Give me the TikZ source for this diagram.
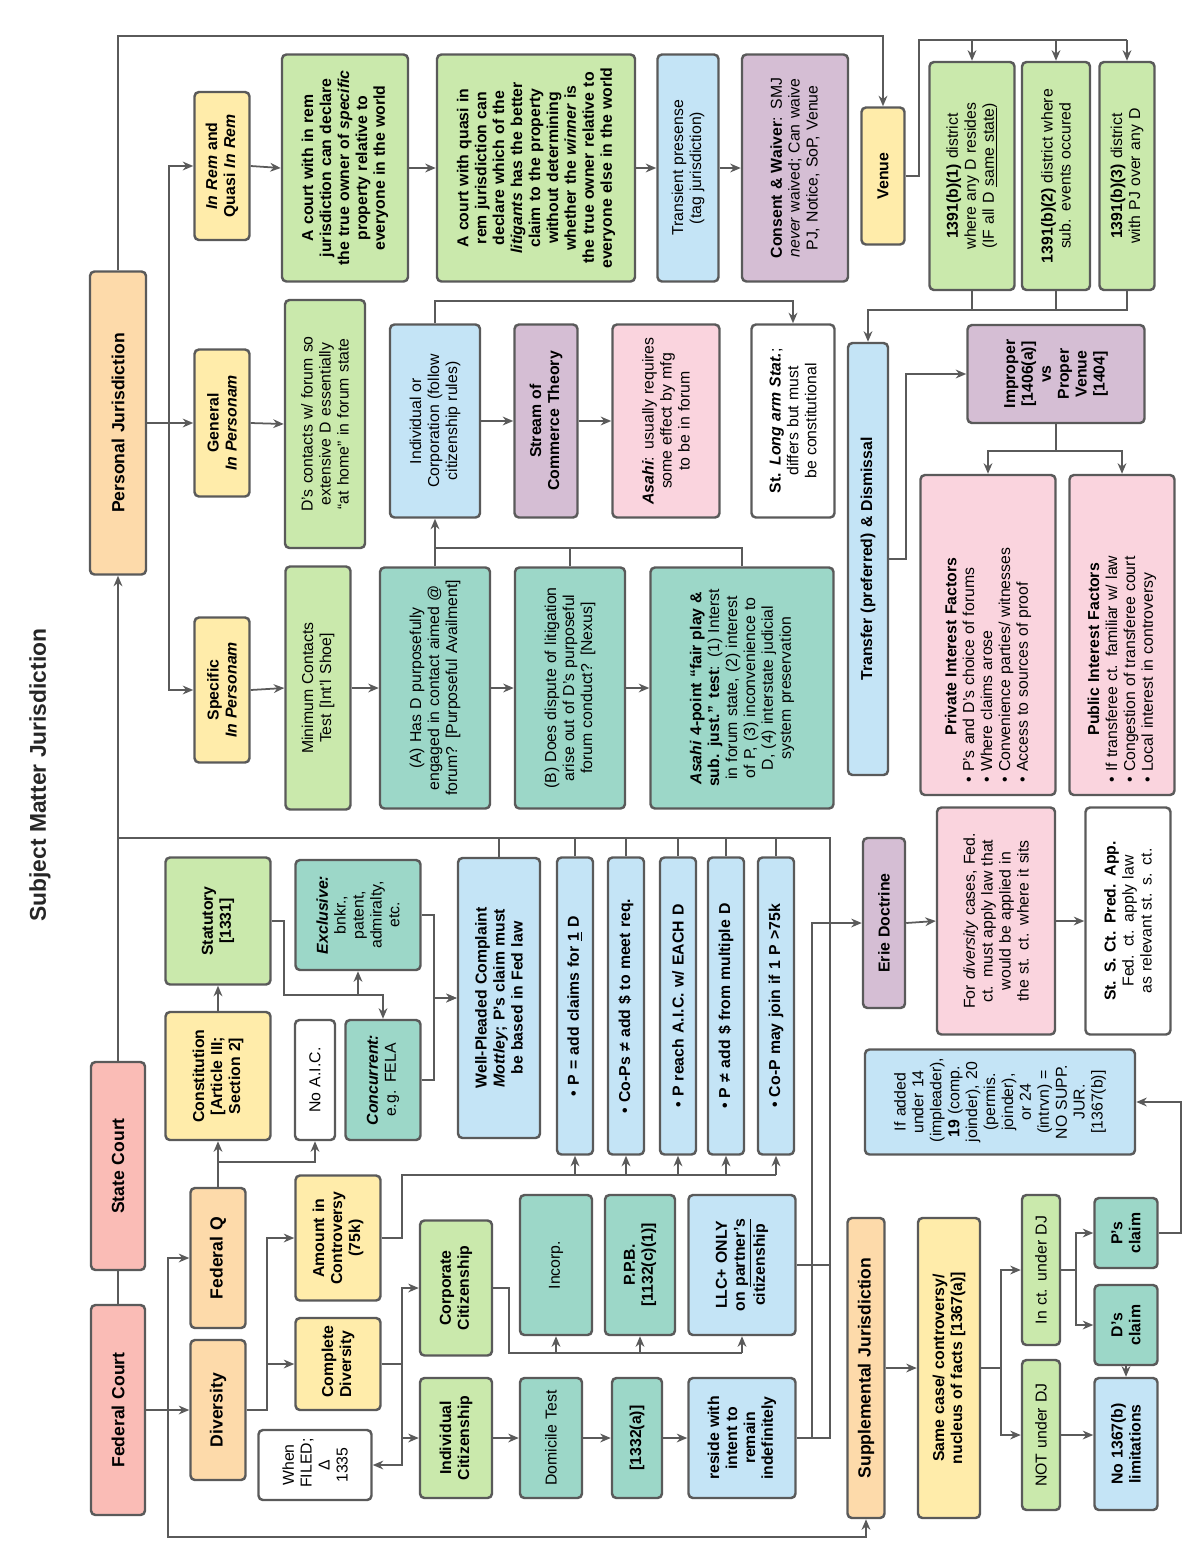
\documentclass[tikz,border=0pt]{standalone}
\usepackage{fontspec}
\setmainfont{Liberation Sans}
\usetikzlibrary{arrows.meta}
\hyphenpenalty=10000
\exhyphenpenalty=10000
\newlength\pxu
\setlength\pxu{0.02cm}
\definecolor{cLine}{RGB}{90,90,90}
\definecolor{cRed}{RGB}{250,188,182}
\definecolor{cOrange}{RGB}{253,218,170}
\definecolor{cYellow}{RGB}{255,236,170}
\definecolor{cGreen}{RGB}{202,233,172}
\definecolor{cTeal}{RGB}{156,215,200}
\definecolor{cBlue}{RGB}{196,228,246}
\definecolor{cPurple}{RGB}{213,190,212}
\definecolor{cPink}{RGB}{250,212,222}
\tikzset{
  bx/.style={draw=cLine, line width=1.4pt, rounded corners=2.5pt, rotate=90,
    align=center, inner sep=1pt, font=\fontsize{9}{10.2}\selectfont\bfseries},
  nb/.style={font=\fontsize{9}{10.2}\selectfont},
  hd/.style={font=\fontsize{10}{11.5}\selectfont\bfseries},
  sz/.style 2 args={minimum height={#1*0.02cm}, minimum width={#2*0.02cm},
    text width=\dimexpr#2\pxu-14pt\relax},
  con/.style={draw=cLine, line width=1pt},
}
\begin{document}
\begin{tikzpicture}[x=0.02cm, y=-0.02cm, >={Stealth[length=6pt,width=5pt]}]
  \useasboundingbox (0,0) rectangle (1200,1553);
  \node[rotate=90, font=\fontsize{13}{15}\selectfont\bfseries, text=black!85] (title) at (40,775) {Subject Matter Jurisdiction};

  % courts
  \node[bx, hd, sz={54}{210}, fill=cRed] (fed) at (118,1410) {Federal Court};
  \node[bx, hd, sz={54}{208}, fill=cRed] (state) at (118,1166) {State Court};
  \node[bx, hd, sz={56}{303}, fill=cOrange] (pj) at (118,423) {Personal Jurisdiction};

  % subject matter
  \node[bx, hd, sz={55}{140}, fill=cOrange] (div) at (218,1410) {Diversity};
  \node[bx, hd, sz={55}{140}, fill=cOrange] (fedq) at (218,1258) {Federal Q};
  \node[bx, nb, sz={113}{70}, fill=white] (filed) at (315,1465) {When FILED;\\ Δ\\ 1335};
  \node[bx, sz={85}{92}, fill=cYellow] (cdiv) at (338,1364) {Complete Diversity};
  \node[bx, sz={85}{125}, fill=cYellow] (aic) at (338,1238) {Amount in Controversy (75k)};
  \node[bx, sz={105}{128}, fill=cYellow] (const) at (218,1076) {Constitution [Article III; Section 2]};
  \node[bx, sz={105}{127}, fill=cGreen] (stat) at (218,921) {Statutory [1331]};
  \node[bx, nb, sz={40}{120}, fill=white] (noaic) at (315,1080) {No A.I.C.};
  \node[bx, nb, sz={125}{110}, fill=cTeal] (excl) at (358,915) {\textbf{\textit{Exclusive:}} bnkr., patent, admiralty, etc.};
  \node[bx, nb, sz={75}{120}, fill=cTeal] (conc) at (383,1080) {\textbf{\textit{Concurrent:}} e.g. FELA};
  \node[bx, sz={82}{280}, fill=cBlue] (wpc) at (499,998) {Well-Pleaded Complaint \textit{Mottley}; P's claim must be based in Fed law};
  \node[bx, sz={36}{297}, fill=cBlue] (b1) at (575,1006) {• P = add claims for \underline{1} D};
  \node[bx, sz={36}{297}, fill=cBlue] (b2) at (626,1006) {• Co-Ps ≠ add \$ to meet req.};
  \node[bx, sz={36}{297}, fill=cBlue] (b3) at (678,1006) {• P reach A.I.C. w/ EACH D};
  \node[bx, sz={36}{297}, fill=cBlue] (b4) at (726,1006) {• P ≠ add \$ from multiple D};
  \node[bx, sz={36}{297}, fill=cBlue] (b5) at (776,1006) {• Co-P may join if 1 P >75k};
  \node[bx, sz={72}{120}, fill=cGreen] (indcit) at (456,1438) {Individual Citizenship};
  \node[bx, sz={72}{135}, fill=cGreen] (corpcit) at (456,1288) {Corporate Citizenship};
  \node[bx, nb, sz={62}{120}, fill=cTeal] (domicile) at (551,1438) {Domicile Test};
  \node[bx, sz={50}{120}, fill=cTeal] (s1332) at (637,1438) {[1332(a)]};
  \node[bx, sz={107}{120}, fill=cBlue] (reside) at (742,1438) {reside with intent to remain indefinitely};
  \node[bx, nb, sz={72}{140}, fill=cTeal] (incorp) at (556,1265) {Incorp.};
  \node[bx, sz={70}{140}, fill=cTeal] (ppb) at (640,1265) {P.P.B. [1132(c)(1)]};
  \node[bx, sz={107}{140}, fill=cBlue] (llc) at (742,1265) {LLC+ ONLY on \underline{partner's} citizenship};

  % personal jurisdiction
  \node[bx, sz={55}{145}, fill=cYellow] (spec) at (222,690) {Specific\\ \textit{In Personam}};
  \node[bx, sz={55}{147}, fill=cYellow] (gen) at (222,423) {General\\ \textit{In Personam}};
  \node[bx, sz={55}{148}, fill=cYellow] (inrem) at (222,166) {\textit{In Rem} and\\ Quasi \textit{In Rem}};
  \node[bx, nb, sz={65}{243}, fill=cGreen] (mct) at (318,688) {Minimum Contacts Test [Int'l Shoe]};
  \node[bx, nb, sz={80}{248}, fill=cGreen] (home) at (325,424) {D's contacts w/ forum so extensive D essentially ``at home'' in forum state};
  \node[bx, sz={126}{227}, fill=cGreen] (inremtxt) at (345,168) {A court with in rem jurisdiction can declare the true owner of \textit{specific} property relative to everyone in the world};
  \node[bx, nb, sz={110}{241}, fill=cTeal] (avail) at (435,688) {(A) Has D purposefully engaged in contact aimed @ forum? [Purposeful Availment]};
  \node[bx, nb, sz={90}{193}, fill=cBlue] (indcorp) at (435,421) {Individual or Corporation (follow citizenship rules)};
  \node[bx, sz={198}{227}, fill=cGreen] (quasi) at (536,168) {A court with quasi in rem jurisdiction can declare which of the \textit{litigants} has the better claim to the property without determining whether the \textit{winner} is the true owner relative to everyone else in the world};
  \node[bx, nb, sz={110}{241}, fill=cTeal] (nexus) at (570,688) {(B) Does dispute of litigation arise out of D's purposeful forum conduct? [Nexus]};
  \node[bx, sz={63}{193}, fill=cPurple] (stream) at (546,421) {Stream of Commerce Theory};
  \node[bx, nb, sz={107}{193}, fill=cPink] (asahi) at (666,421) {\textbf{\textit{Asahi}}: usually requires some effect by mfg to be in forum};
  \node[bx, nb, sz={61}{227}, fill=cBlue] (trans) at (688,168) {Transient presense (tag jurisdiction)};
  \node[bx, nb, sz={106}{227}, fill=cPurple] (consent) at (795,168) {\textbf{Consent \& Waiver}: SMJ \textit{never} waived; Can waive PJ, Notice, SoP, Venue};
  \node[bx, nb, sz={183}{241}, fill=cTeal] (asahifour) at (742,688) {\textbf{\textit{Asahi} 4-point ``fair play \& sub. just.'' test}: (1) Interst in forum state, (2) interest of P, (3) inconvenience to D, (4) interstate judicial system preservation};
  \node[bx, nb, sz={83}{193}, fill=white] (longarm) at (793,421) {\textbf{St. \textit{Long arm Stat.}}; differs but must be constitutional};

  % venue
  \node[bx, sz={43}{137}, fill=cYellow] (venue) at (883,176) {Venue};
  \node[bx, nb, sz={85}{228}, fill=cGreen] (vone) at (972,176) {\textbf{1391(b)(1)} district where any D resides (IF all D \underline{same state})};
  \node[bx, nb, sz={68}{228}, fill=cGreen] (vtwo) at (1056,176) {\textbf{1391(b)(2)} district where sub. events occured};
  \node[bx, nb, sz={55}{228}, fill=cGreen] (vthree) at (1127,176) {\textbf{1391(b)(3)} district with PJ over any D};
  \node[bx, sz={40}{432}, fill=cBlue] (transfer) at (868,559) {Transfer (preferred) \& Dismissal};
  \node[bx, sz={177}{98}, fill=cPurple] (improper) at (1056,374) {Improper [1406(a)] vs Proper Venue [1404]};
  \node[bx, nb, sz={135}{320}, fill=cPink, align=left] (private) at (988,635) {\hspace*{3em}\textbf{Private Interest Factors}\\ • P's and D's choice of forums\\ • Where claims arose\\ • Convenience parties/ witnesses\\ • Access to sources of proof};
  \node[bx, nb, sz={105}{320}, fill=cPink, align=left] (public) at (1122,635) {\hspace*{3em}\textbf{Public Interest Factors}\\ • If transferee ct. familiar w/ law\\ • Congestion of transferee court\\ • Local interest in controversy};

  % erie and supplemental
  \node[bx, sz={42}{170}, fill=cPurple] (erie) at (884,923) {Erie Doctrine};
  \node[bx, nb, sz={118}{227}, fill=cPink] (fordiv) at (996,921) {For \textit{diversity} cases, Fed. ct. must apply law that would be applied in the st. ct. where it sits};
  \node[bx, nb, sz={85}{227}, fill=white] (stpred) at (1128,921) {\textbf{St. S. Ct. Pred. App.} Fed. ct. apply law as relevant st. s. ct.};
  \node[bx, nb, sz={270}{105}, fill=cBlue] (added) at (1000,1102) {If added under 14 (impleader), \textbf{19} (comp. joinder), 20 (permis. joinder), or 24 (intrvn) = NO SUPP. JUR. [1367(b)]};
  \node[bx, hd, sz={37}{300}, fill=cOrange] (supp) at (866,1368) {Supplemental Jurisdiction};
  \node[bx, sz={62}{300}, fill=cYellow] (same) at (949,1368) {Same case/ controversy/ nucleus of facts [1367(a)]};
  \node[bx, nb, sz={38}{150}, fill=cGreen] (inct) at (1041,1270) {In ct. under DJ};
  \node[bx, nb, sz={38}{150}, fill=cGreen] (notdj) at (1041,1435) {NOT under DJ};
  \node[bx, sz={63}{70}, fill=cTeal] (pclaim) at (1126,1233) {P's claim};
  \node[bx, sz={63}{80}, fill=cTeal] (dclaim) at (1126,1325) {D's claim};
  \node[bx, sz={63}{132}, fill=cBlue] (nolimit) at (1126,1444) {No 1367(b) limitations};

  \coordinate (top) at (0,838);
  \coordinate (bot) at (0,1175);
  \coordinate (cbot) at (0,1353);
  \coordinate (mid) at (0,548);
  \coordinate (vtop) at (0,40);
  \coordinate (vbot) at (0,310);

  % court connectors
  \draw[con] (fed.east) -- (state.west);
  \draw[con, ->] (state.east) -- (pj.west);
  \draw[con, ->] (fed.south) -- (div.north);
  \draw[con, ->] (168,1410) |- (fedq.north);
  \draw[con, ->] (168,1410) |- (866,1537) -- (supp.west);
  \draw[con] (118,838) -| (830,1438) -- (reside.south);
  \draw[con] (llc.south) -- (830,1265);
  \draw[con, ->] (reside.south) -- (812,1438) |- (erie.north);

  % federal question / diversity
  \draw[con, ->] (fedq.east) -- (const.west);
  \draw[con, ->] (218,1162) -| (noaic.west);
  \draw[con, ->] (const.east) -- (stat.west);
  \draw[con, ->] (stat.south) -- ++(12,0) |- (383,995) -- (conc.east);
  \draw[con, ->] (358,995) -- (excl.west);
  \draw[con, ->] (excl.south) -- ++(12,0) |- (wpc.north);
  \draw[con, ->] (conc.south) -- ++(12,0) |- (wpc.north);
  \foreach \n in {wpc,b1,b2,b3,b4,b5}
    \draw[con] (\n.east) -- (\n.east |- top);
  \draw[con] (aic.south) -- ++(20,0) |- (b5.west |- bot);
  \foreach \n in {b1,b2,b3,b4,b5}
    \draw[con, ->] (\n.west |- bot) -- (\n.west);
  \draw[con, ->] (div.south) -- ++(20,0) |- (cdiv.north);
  \draw[con, ->] (div.south) -- ++(20,0) |- (aic.north);
  \draw[con, ->] (cdiv.south) -- ++(20,0) |- (corpcit.north);
  \draw[con, ->] (cdiv.south) -- ++(20,0) |- (indcit.north);
  \draw[con, ->] (cdiv.south) -- ++(20,0) |- (filed.south);
  \draw[con] (corpcit.south) -- ++(16,0) |- (llc.west |- cbot);
  \foreach \n in {incorp,ppb,llc}
    \draw[con, ->] (\n.west |- cbot) -- (\n.west);
  \draw[con, ->] (indcit.south) -- (domicile.north);
  \draw[con, ->] (domicile.south) -- (s1332.north);
  \draw[con, ->] (s1332.south) -- (reside.north);

  % personal jurisdiction
  \draw[con, ->] (pj.south) -- (gen.north);
  \draw[con, ->] (pj.south) -- ++(22,0) |- (inrem.north);
  \draw[con, ->] (pj.south) -- ++(22,0) |- (spec.north);
  \draw[con, ->] (inrem.south) -- (inremtxt.north);
  \draw[con, ->] (inremtxt.south) -- (quasi.north);
  \draw[con, ->] (quasi.south) -- (trans.north);
  \draw[con, ->] (trans.south) -- (consent.north);
  \draw[con, ->] (gen.south) -- (home.north);
  \draw[con, ->] (spec.south) -- (mct.north);
  \draw[con, ->] (mct.south) -- (avail.north);
  \draw[con, ->] (avail.south) -- (nexus.north);
  \draw[con, ->] (nexus.south) -- (asahifour.north);
  \draw[con, ->] (avail.east) -- (indcorp.west);
  \draw[con] (avail.east |- mid) -| (asahifour.east);
  \draw[con] (nexus.east) -- (nexus.east |- mid);
  \draw[con, ->] (indcorp.east) -- ++(0,-22) -| (longarm.east);
  \draw[con, ->] (indcorp.south) -- (stream.north);
  \draw[con, ->] (stream.south) -- (asahi.north);

  % venue
  \draw[con, ->] (pj.east) |- (venue.east |- 0,36) -- (venue.east);
  \draw[con] (venue.south) -- ++(13,0) |- (vthree.east |- vtop);
  \foreach \n in {vone,vtwo,vthree}
    \draw[con, ->] (\n.east |- vtop) -- (\n.east);
  \draw[con, ->] (vthree.west) |- (transfer.east |- vbot) -- (transfer.east);
  \draw[con] (vone.west) -- (vone.west |- vbot);
  \draw[con] (vtwo.west) -- (vtwo.west |- vbot);
  \draw[con, ->] (transfer.south) -- ++(17,0) |- (improper.north);
  \draw[con, ->] (improper.west) -- ++(0,27) -| (private.east);
  \draw[con, ->] (improper.west) -- ++(0,27) -| (public.east);

  % erie and supplemental
  \draw[con, ->] (erie.south) -- (fordiv.north);
  \draw[con, ->] (fordiv.south) -- (stpred.north);
  \draw[con, ->] (supp.south) -- (same.north);
  \draw[con, ->] (same.south) -- ++(20,0) |- (inct.north);
  \draw[con, ->] (same.south) -- ++(20,0) |- (notdj.north);
  \draw[con, ->] (inct.south) -- ++(15,0) |- (pclaim.north);
  \draw[con, ->] (inct.south) -- ++(15,0) |- (dclaim.north);
  \draw[con, ->] (pclaim.south) -- ++(22,0) |- (added.south);
  \draw[con, ->] (dclaim.west) -- (nolimit.east);
  \draw[con, ->] (notdj.south) -- (notdj.south -| nolimit.north);
\end{tikzpicture}
\end{document}
